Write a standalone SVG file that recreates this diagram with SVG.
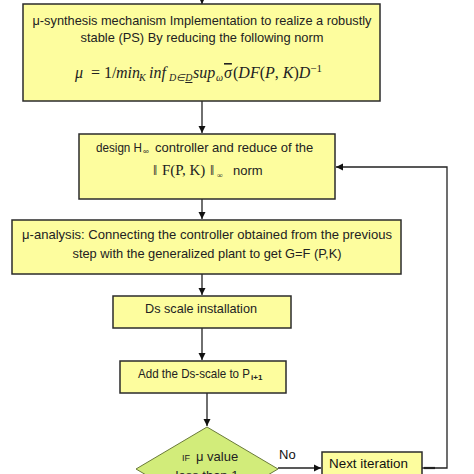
<svg xmlns="http://www.w3.org/2000/svg" width="474" height="474" viewBox="0 0 474 474">
<defs>
<marker id="ah" markerWidth="8" markerHeight="8" refX="7" refY="4" orient="auto" markerUnits="userSpaceOnUse">
<path d="M0,0.5 L7,4 L0,7.5 Z" fill="#111"/>
</marker>
</defs>
<style>
.box{fill:#fdfd9e;stroke:#2b2b2b;stroke-width:1.5}
.dia{fill:#d2ec7a;stroke:#6a7a3a;stroke-width:1}
.t{font-family:"Liberation Sans",Arial,sans-serif;font-size:13px;fill:#222}
.m{font-family:"Liberation Serif","Times New Roman",serif;fill:#222}
.a{font-family:"Liberation Sans",Arial,sans-serif;fill:#111}
.c{fill:none;stroke:#222;stroke-width:1.3}
</style>
<rect width="474" height="474" fill="#fff"/>
<g id="connectors">
<line class="c" x1="202" y1="-6" x2="202" y2="4" marker-end="url(#ah)"/>
<line class="c" x1="202" y1="101" x2="202" y2="133" marker-end="url(#ah)"/>
<line class="c" x1="202" y1="199" x2="202" y2="219" marker-end="url(#ah)"/>
<line class="c" x1="202" y1="274" x2="202" y2="295" marker-end="url(#ah)"/>
<line class="c" x1="202" y1="328" x2="202" y2="360" marker-end="url(#ah)"/>
<line class="c" x1="207" y1="393" x2="207" y2="426" marker-end="url(#ah)"/>
<line class="c" x1="278" y1="468" x2="321" y2="468" marker-end="url(#ah)"/>
<polyline class="c" points="422,468 447,468 447,167 336,167" marker-end="url(#ah)"/>
<line x1="424" y1="468" x2="435" y2="468" stroke="#222" stroke-width="2.2"/>
</g>
<g id="n1">
<rect class="box" x="23" y="4" width="357" height="97"/>
<text class="t" x="202" y="25" text-anchor="middle" textLength="339" lengthAdjust="spacingAndGlyphs">μ-synthesis mechanism Implementation to realize a robustly</text>
<text class="t" x="202" y="42" text-anchor="middle" textLength="243" lengthAdjust="spacingAndGlyphs">stable (PS) By reducing the following norm</text>
<text class="m" font-size="16" y="78"><tspan x="75" font-style="italic">μ</tspan><tspan x="91">=</tspan><tspan x="104">1/</tspan><tspan x="116" font-style="italic">min</tspan><tspan x="139" dy="3" font-size="10" font-style="italic">K</tspan><tspan x="149" dy="-3" font-style="italic">inf</tspan><tspan x="169" dy="3" font-size="10" font-style="italic">D∈<tspan text-decoration="underline">D</tspan></tspan><tspan x="193" dy="-3" font-style="italic">sup</tspan><tspan x="216" dy="3" font-size="10" font-style="italic">ω</tspan><tspan x="224" dy="-3" font-style="italic" text-decoration="overline">σ</tspan><tspan x="233">(</tspan><tspan font-style="italic">DF</tspan><tspan>(</tspan><tspan font-style="italic">P</tspan><tspan>, </tspan><tspan font-style="italic">K</tspan><tspan>)</tspan><tspan font-style="italic">D</tspan><tspan dy="-6" font-size="11">−1</tspan></text>
</g>
<g id="n2">
<rect class="box" x="79" y="134" width="256" height="65"/>
<text class="t" y="152"><tspan x="96" textLength="46" lengthAdjust="spacingAndGlyphs">design H</tspan><tspan x="143" dy="2" font-size="8">∞</tspan><tspan x="155" dy="-2">controller  and reduce of the</tspan></text>
<text class="m" font-size="15" y="175"><tspan x="153">‖</tspan><tspan x="162">F(P, K)</tspan><tspan x="210">‖</tspan><tspan x="217" dy="3" font-size="8">∞</tspan></text>
<text class="t" x="233" y="175">norm</text>
</g>
<g id="n3">
<rect class="box" x="12" y="220" width="389" height="54"/>
<text class="t" x="207" y="239" text-anchor="middle" textLength="370" lengthAdjust="spacingAndGlyphs">μ-analysis: Connecting the controller obtained from the previous</text>
<text class="t" x="207" y="258" text-anchor="middle" textLength="269" lengthAdjust="spacingAndGlyphs">step with the generalized plant to get G=F (P,K)</text>
</g>
<g id="n4">
<rect class="box" x="113" y="296" width="178" height="32"/>
<text class="t" x="201" y="313" text-anchor="middle" textLength="112" lengthAdjust="spacingAndGlyphs">Ds scale installation</text>
</g>
<g id="n5">
<rect class="box" x="120" y="361" width="166" height="32"/>
<text class="t" y="378"><tspan x="138" textLength="112" lengthAdjust="spacingAndGlyphs">Add the Ds-scale to P</tspan><tspan x="251" dy="2" font-size="8" font-weight="bold">i+1</tspan></text>
</g>
<g id="n6">
<polygon class="dia" points="207,427 278,469 207,511 136,469"/>
<text class="t" y="461"><tspan x="182" font-size="9">IF</tspan><tspan x="196">μ value</tspan></text>
<text class="t" x="207" y="480" text-anchor="middle">less than 1</text>
</g>
<text class="a" x="279" y="459" font-size="13">No</text>
<g id="n7">
<rect class="box" x="322" y="452" width="100" height="30"/>
<text class="a" x="329" y="468" font-size="13.5" textLength="79" lengthAdjust="spacingAndGlyphs">Next iteration</text>
</g>
</svg>
